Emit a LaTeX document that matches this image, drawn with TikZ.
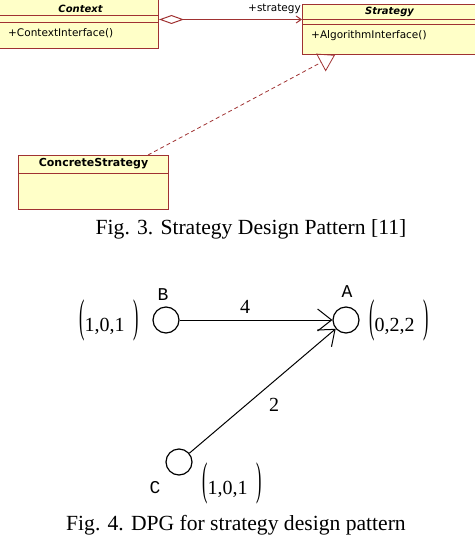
\documentclass[tikz,border=0pt]{standalone}
\usepackage{fontspec}
\setmainfont{Liberation Serif}
\newfontfamily\umlfont{DejaVu Sans}
\newfontfamily\lblfont{Liberation Mono}
\usetikzlibrary{arrows.meta,positioning}
\definecolor{umlred}{RGB}{160,50,50}
\definecolor{umlfill}{RGB}{255,255,200}
\newcommand{\tuple}[1]{\scalebox{0.8}[2.3]{(}#1\hspace{0.45em}\scalebox{0.8}[2.3]{)}}

\begin{document}
\begin{tikzpicture}[x=1pt,y=-1pt,
  umlbox/.style={draw=umlred, fill=umlfill, line width=1pt, anchor=north west, inner sep=0pt},
  umlsep/.style={draw=umlred, line width=1pt},
  umltitle/.style={font=\umlfont\bfseries\itshape\fontsize{10}{11}\selectfont, inner sep=0pt},
  umlop/.style={font=\umlfont\fontsize{10.5}{11}\selectfont, inner sep=0pt, anchor=west},
  assoc/.style={draw=umlred, line width=1pt, {Diamond[open,length=25pt,width=9pt]}-{Straight Barb[length=5pt,width=7pt]}},
  realize/.style={draw=umlred, line width=0.8pt, dash pattern=on 4pt off 3pt, -{Triangle[open,length=16pt,width=20pt]}},
  vertex/.style={circle, draw, line width=1.2pt, minimum size=26pt, inner sep=0pt},
  vlabel/.style={font=\lblfont\fontsize{18}{18}\selectfont, inner sep=0pt},
  weight/.style={font=\fontsize{20}{20}\selectfont, inner sep=0pt},
  caption/.style={font=\fontsize{21.6}{22}\selectfont, inner sep=0pt, anchor=base},
  edge/.style={line width=1pt, -{Straight Barb[length=14pt,width=22pt]}},
]
  \useasboundingbox (0,0) rectangle (474,535);

  % Fig. 3: class diagram
  \node[umlbox, minimum width=160, minimum height=50] (ctx) at (-2,-2) {};
  \draw[umlsep] ([yshift=-18pt]ctx.north west) -- ([yshift=-18pt]ctx.north east);
  \draw[umlsep] ([yshift=-25pt]ctx.north west) -- ([yshift=-25pt]ctx.north east);
  \node[umltitle] (ctxname) at ([xshift=2pt,yshift=-11pt]ctx.north) {Context};
  \node[umlop] (ctxop) at ([xshift=10pt,yshift=-35pt]ctx.north west) {+ContextInterface()};

  \node[umlbox, minimum width=174, minimum height=50] (strat) at (302,4) {};
  \draw[umlsep] ([yshift=-16pt]strat.north west) -- ([yshift=-16pt]strat.north east);
  \draw[umlsep] ([yshift=-21pt]strat.north west) -- ([yshift=-21pt]strat.north east);
  \node[umltitle] (stratname) at ([yshift=-8pt]strat.north) {Strategy};
  \node[umlop] (stratop) at ([xshift=9pt,yshift=-32pt]strat.north west) {+AlgorithmInterface()};

  \node[umlbox, minimum width=150, minimum height=54] (ccs) at (18,155) {};
  \draw[umlsep] ([yshift=-18pt]ccs.north west) -- ([yshift=-18pt]ccs.north east);
  \node[umltitle, font=\umlfont\bfseries\fontsize{11}{12}\selectfont] (ccsname) at ([yshift=-9pt]ccs.north) {ConcreteStrategy};

  \draw[assoc] ([yshift=4pt]ctx.east) -- ([yshift=10pt]strat.west);
  \node[umlop, anchor=east] (role) at ([xshift=-1pt,yshift=21pt]strat.west) {+strategy};
  \draw[realize] ([xshift=-21pt]ccs.north east) -- ([xshift=33pt]strat.south west);

  \node[caption] (cap3) at (251,234) {Fig. 3. Strategy Design Pattern [11]};

  % Fig. 4: DPG
  \node[vertex] (B) at (166,320) {};
  \node[vertex] (A) at (346,320) {};
  \node[vertex] (C) at (179,462) {};
  \node[vlabel] (Bname) at (163,295) {B};
  \node[vlabel] (Aname) at (347,292) {A};
  \node[vlabel] (Cname) at (155,488) {C};
  \node[weight] (Bval) at (109,320) {\tuple{1,0,1}};
  \node[weight] (Aval) at (399,320) {\tuple{0,2,2}};
  \node[weight] (Cval) at (232,483) {\tuple{1,0,1}};

  \draw[edge] (B) -- (A);
  \draw[edge] (C) -- (A);
  \node[weight] (w4) at (245,307) {4};
  \node[weight] (w2) at (274,405) {2};

  \node[caption] (cap4) at (236,530) {Fig. 4. DPG for strategy design pattern};
\end{tikzpicture}
\end{document}
